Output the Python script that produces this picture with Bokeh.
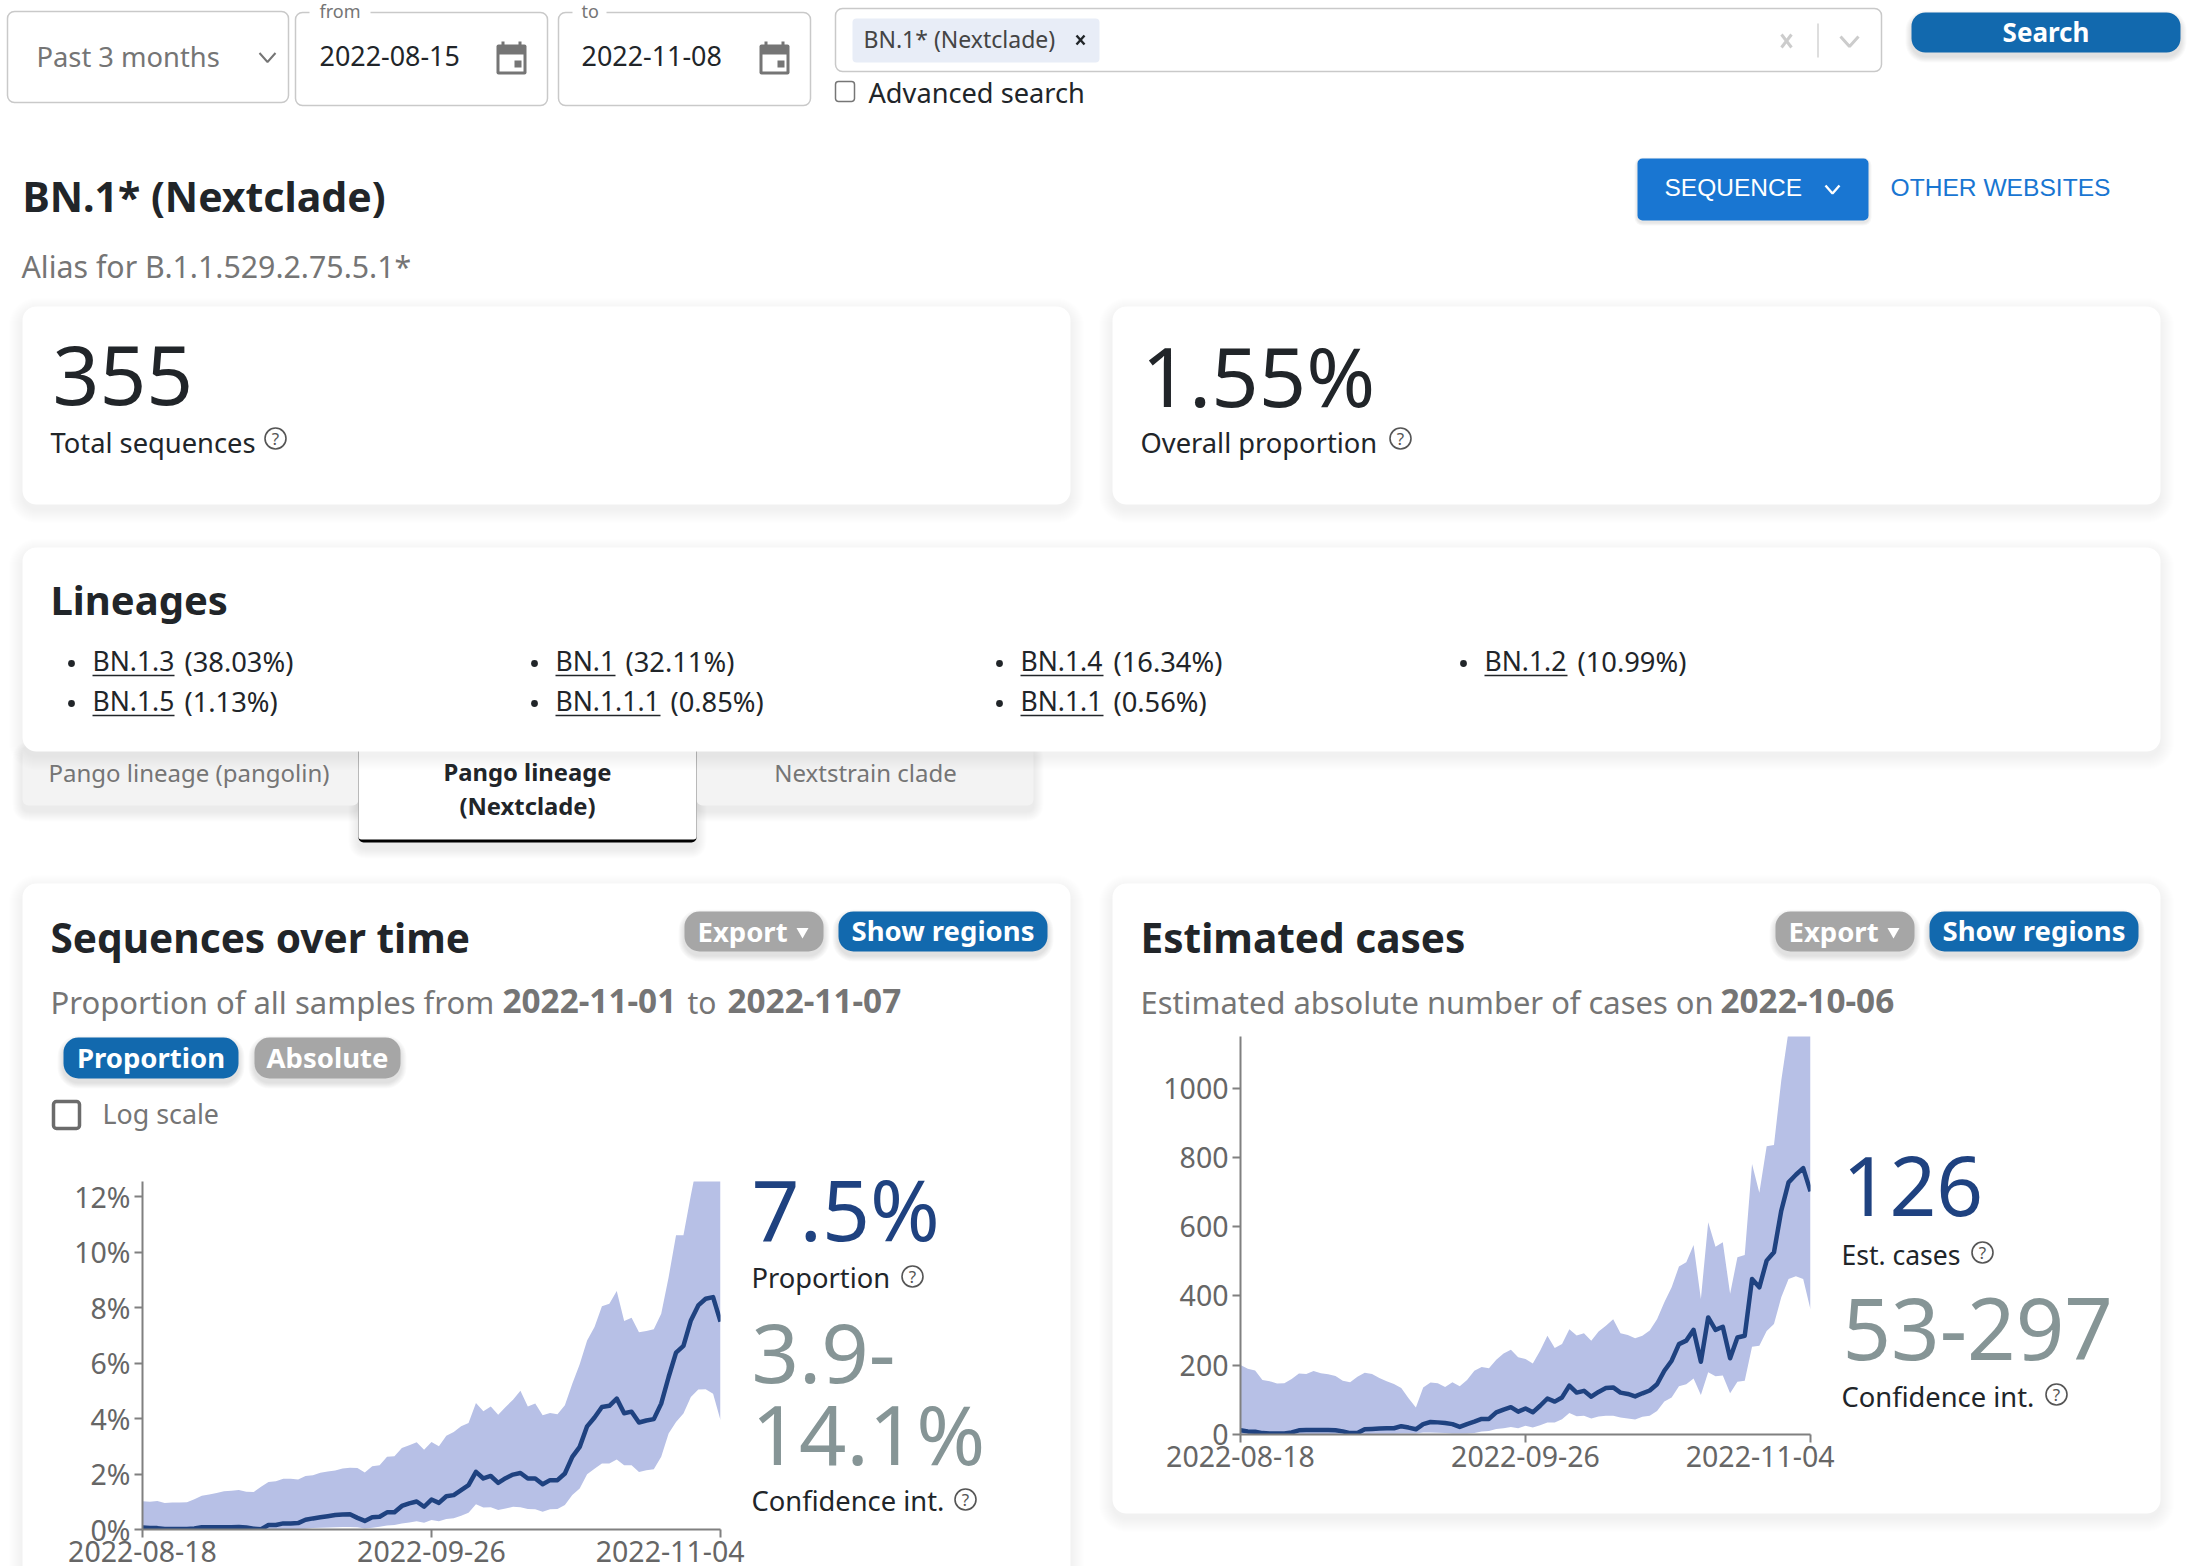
import pandas as pd
from bokeh.core.properties import value
from bokeh.embed import file_html
from bokeh.models import Range1d, FixedTicker, DatetimeTickFormatter
from bokeh.plotting import figure
from bokeh.resources import INLINE

# ---------- data ----------
dates = pd.date_range("2022-08-18", "2022-11-04", freq="D")
x_tick_dates = ["2022-08-18", "2022-09-26", "2022-11-04"]

seq_line = [.07,.05,.05,.02,.02,.02,.02,.04,.08,.08,.08,.08,.08,.09,.07,.03,.01,.16,.16,.22,.22,.23,.35,.40,.44,.48,.52,.54,.55,.42,.31,
            .44,.46,.62,.62,.85,.94,1.01,.82,1.08,.96,1.20,1.24,1.42,1.60,2.08,1.84,1.93,1.68,1.85,1.98,2.04,1.84,1.84,1.63,1.78,1.78,2.02,2.62,2.98,
            3.72,4.04,4.42,4.46,4.72,4.19,4.25,3.86,3.93,3.98,4.54,5.50,6.38,6.62,7.54,8.08,8.32,8.38,7.50]
seq_upper = [1.02,1.00,1.03,.96,.97,.97,.98,1.09,1.22,1.26,1.32,1.38,1.40,1.42,1.36,1.35,1.54,1.71,1.74,1.83,1.83,1.80,1.93,1.96,2.05,2.09,2.13,2.20,2.23,2.22,2.06,
             2.28,2.32,2.62,2.64,2.94,3.04,3.15,2.88,3.16,3.00,3.38,3.52,3.72,3.84,4.56,4.26,4.44,4.14,4.42,4.68,5.00,4.44,4.54,4.12,4.20,4.16,4.48,5.26,5.96,
             6.82,7.30,8.05,8.14,8.60,7.52,7.64,7.11,7.16,7.22,7.78,9.10,10.61,10.61,12.05,13.40,14.00,14.40,14.10]
seq_lower = [0,0,0,0,0,0,0,0,0,0,0,0,0,0,0,0,0,.005,.01,.01,.015,.02,.03,.05,.06,.07,.08,.09,.09,.08,.036,
             .06,.10,.14,.16,.22,.25,.30,.24,.34,.30,.38,.41,.50,.60,.91,.79,.80,.70,.76,.82,.80,.74,.73,.64,.73,.74,.88,1.24,1.48,
             1.99,2.19,2.38,2.38,2.52,2.32,2.32,2.07,2.14,2.17,2.62,3.46,3.88,4.18,4.78,5.05,5.06,4.90,3.94]
case_line = [12,9,8,4,3,3,3,6,12,13,13,13,13,12,9,4,4,15,16,17,18,18,24,20,15,30,36,35,33,30,22,30,37,45,45,64,72,79,66,75,
             64,83,104,95,107,141,121,126,109,123,134,136,121,117,110,119,127,145,184,213,261,271,302,210,338,302,311,220,280,285,449,425,502,526,646,728,750,769,702]
case_upper = [201,190,185,157,154,147,148,160,176,175,183,177,174,169,155,151,167,178,175,163,154,146,134,105,78,136,150,148,137,151,139,157,184,195,191,216,234,245,223,218,
              205,242,285,250,261,304,286,292,271,297,314,333,292,287,278,285,300,333,382,425,485,497,547,391,613,542,555,406,512,518,781,698,832,836,1022,1165,1262,1320,1320]
case_lower = [0,0,0,0,0,0,0,0,0,0,0,0,0,0,0,0,0,1,2,2,2,2,3,3,3,6,6,5,4,3,3,3,4,9,10,16,18,22,18,25,
              20,27,35,35,44,62,53,54,46,52,54,54,49,46,43,51,54,68,95,107,139,145,162,114,180,168,170,119,152,155,253,256,299,319,396,449,457,449,361]
seq_ticks = [0, 2, 4, 6, 8, 10, 12]
seq_tick_labels = ["0%", "2%", "4%", "6%", "8%", "10%", "12%"]
case_ticks = [0, 200, 400, 600, 800, 1000]
case_tick_labels = ["0", "200", "400", "600", "800", "1000"]

lineages_row1 = [("BN.1.3", "(38.03%)"), ("BN.1", "(32.11%)"), ("BN.1.4", "(16.34%)"), ("BN.1.2", "(10.99%)")]
lineages_row2 = [("BN.1.5", "(1.13%)"), ("BN.1.1.1", "(0.85%)"), ("BN.1.1", "(0.56%)")]

assert all(len(s) == len(dates) for s in (seq_line, seq_upper, seq_lower, case_line, case_upper, case_lower))

# ---------- page canvas ----------
W, H = 2187, 1566
FONT = "Noto Sans"
DARK = "#212529"
GREY = "#757575"
BLUE = "#1269ae"
BTN_GREY = "#a6a6a6"
NAVY = "#1f4280"
BAND = "#b7c0e6"
SLATE = "#869596"

bg = figure(width=W, height=H, x_range=Range1d(0, W), y_range=Range1d(0, H), x_axis_type=None, y_axis_type=None,
            output_backend="svg", toolbar_location=None, min_border=0, outline_line_color=None)
bg.grid.visible = False


def Y(v):
    return H - v


def box(l, t, r, b, fill="white", line=None, radius=0, lw=1.5, alpha=1.0):
    bg.quad(left=l, right=r, top=Y(t), bottom=Y(b), fill_color=fill, fill_alpha=alpha,
            line_color=line, line_width=lw, border_radius=radius)


def shadow(l, t, r, b, radius=10, dy=4, spread=12, a=0.012):
    for i in range(spread, 0, -1):
        bg.quad(left=l - i, right=r + i, top=Y(t + dy - i), bottom=Y(b + dy + i), fill_color="black",
                fill_alpha=a, line_color=None, border_radius=radius + i)


def txt(x, y, s, size, color=DARK, bold=False, align="left", font=FONT):
    # y is the wanted baseline; the text box of the renderer sits a fixed fraction of the size lower
    lift = (0.33 if font == "Liberation Sans" else 0.38) * size
    bg.text(x=[x], y=[Y(y - lift)], text=[s], text_font=value(font), text_font_size=f"{size}px", text_color=color,
            text_font_style="bold" if bold else "normal", text_align=align, text_baseline="alphabetic")


def poly(xs, ys, color, w=2):
    bg.line(x=xs, y=[Y(v) for v in ys], line_color=color, line_width=w)


def chevron(x, y, hw, hh, color, w=2):
    poly([x - hw, x, x + hw], [y - hh, y + hh, y - hh], color, w)


def qmark(x, y):
    bg.circle(x=[x], y=[Y(y)], radius=10.5, fill_color=None, line_color="#555555", line_width=1.6)
    txt(x, y + 6, "?", 17, "#555555", align="center")


def calendar(l, t, r, b):
    box(l, t + 3, r, b, fill=GREY, radius=2)
    box(l + 3, t + 13, r - 3, b - 3, fill="white")
    box(l + 18, t + 19, r - 5, b - 7, fill=GREY)
    box(l + 5, t, l + 8, t + 4, fill=GREY)
    box(r - 8, t, r - 5, t + 4, fill=GREY)


def button(l, t, r, b, label, fill, size=27.5, radius=18):
    shadow(l, t, r, b, radius=radius, dy=4, spread=6, a=0.018)
    box(l, t, r, b, fill=fill, radius=radius)
    txt((l + r) / 2, (t + b) / 2 + size * 0.35, label, size, "white", True, "center")


def card(l, t, r, b):
    shadow(l, t, r, b, radius=14, dy=5, spread=14, a=0.0045)
    box(l, t, r, b, fill="white", radius=14)


BORDER = "#c9c9c9"
# ---------- search row ----------
box(7, 11, 288, 102, line=BORDER, radius=7)
txt(36, 66, "Past 3 months", 27.3, GREY)
chevron(267, 57, 8, 4.5, GREY, 2)

for l, r, ltxt, gl, gr, lx, val in ((295, 547, "from", 309, 370, 319, "2022-08-15"), (558, 810, "to", 572, 606, 581, "2022-11-08")):
    box(l, 12, r, 105, line=BORDER, radius=7)
    poly([gl, gr], [12, 12], "white", 4)
    txt(lx, 17, ltxt, 18, GREY)
    txt(lx, 66, val, 26.9, DARK)
    calendar(r - 51, 41, r - 21, 74)

box(835, 8, 1881, 71, line=BORDER, radius=7)
box(852, 18, 1099, 62, fill="#e8edf7", radius=4)
txt(863, 47, "BN.1* (Nextclade)", 23, "#444444")
poly([1076, 1084], [35, 44], DARK, 2.4)
poly([1084, 1076], [35, 44], DARK, 2.4)
poly([1781, 1791], [34, 47], "#cccccc", 3)
poly([1791, 1781], [34, 47], "#cccccc", 3)
poly([1817.5, 1817.5], [23, 57], "#cccccc", 1.3)
chevron(1849, 41, 9, 5, "#cccccc", 3)
box(835, 81, 854, 101, line="#767676", radius=3, lw=1.5)
txt(868, 102, "Advanced search", 27.2, DARK)
button(1911, 12, 2180, 52, "Search", BLUE, 26, 14)

# ---------- header ----------
txt(22, 211, "BN.1* (Nextclade)", 41, DARK, True)
txt(21, 278, "Alias for B.1.1.529.2.75.5.1*", 30.3, GREY)
shadow(1637, 158, 1868, 220, radius=5, dy=2, spread=3, a=0.03)
box(1637, 158, 1868, 220, fill="#1976d2", radius=5)
txt(1664, 195, "SEQUENCE", 24.5, "white", font="Liberation Sans")
chevron(1832, 189, 7, 4, "white", 2.4)
txt(1890, 195, "OTHER WEBSITES", 24.6, "#1976d2", font="Liberation Sans")

# ---------- stat cards ----------
card(22, 306, 1070, 504)
card(1112, 306, 2160, 504)
txt(52, 406, "355", 82, DARK)
txt(50, 452, "Total sequences", 27.3, DARK)
qmark(275, 438)
txt(1141, 406, "1.55%", 83, DARK)
txt(1140, 452, "Overall proportion", 27.3, DARK)
qmark(1400, 438)

# ---------- tabs, then lineages card above ----------
shadow(22, 745, 358, 805, radius=6, dy=6, spread=10, a=0.006)
shadow(696, 745, 1033, 805, radius=6, dy=6, spread=10, a=0.006)
shadow(358, 745, 696, 842, radius=6, dy=6, spread=10, a=0.006)
box(22, 745, 358, 805, fill="#f3f3f3", radius=6)
box(696, 745, 1033, 805, fill="#f3f3f3", radius=6)
box(358, 745, 696, 842, fill="black", radius=5)
box(358, 745, 696, 839, fill="white", radius=3)
card(22, 547, 2160, 751)
txt(48, 781, "Pango lineage (pangolin)", 24, GREY)
txt(527, 781, "Pango lineage", 23.8, DARK, True, "center")
txt(527, 815, "(Nextclade)", 23.8, DARK, True, "center")
txt(865, 781, "Nextstrain clade", 24, GREY, align="center")

txt(50, 614, "Lineages", 40, DARK, True)
col_x = [92, 555, 1020, 1484]
col_end = [[174, 615, 1103, 1567], [174, 660, 1103]]
for row, (items, base) in enumerate(((lineages_row1, 671), (lineages_row2, 711))):
    for c, (name, pct) in enumerate(items):
        bg.circle(x=[col_x[c] - 21], y=[Y(base - 8)], radius=3.4, fill_color=DARK, line_color=None)
        txt(col_x[c], base, name, 26.5, DARK)
        poly([col_x[c], col_end[row][c]], [base + 4, base + 4], DARK, 1.5)
        txt(col_end[row][c] + 10, base, pct, 27.3, DARK)

# ---------- chart cards ----------
card(22, 883, 1070, 1600)
card(1112, 883, 2160, 1513)
for off, title in ((0, "Sequences over time"), (1090, "Estimated cases")):
    txt(50 + off, 952, title, 40.6, DARK, True)
for off in (0, 1091):
    shadow(684 + off, 911, 823 + off, 951, radius=15, dy=4, spread=6, a=0.018)
    box(684 + off, 911, 823 + off, 951, fill=BTN_GREY, radius=15)
    txt(697 + off, 941, "Export", 27.5, "white", True)
    bg.scatter(x=[802 + off], y=[Y(931)], marker="inverted_triangle", size=12, fill_color="white", line_color=None)
    button(838 + off, 911, 1047 + off, 951, "Show regions", BLUE, 27.5, 15)

txt(50, 1013, "Proportion of all samples from", 31, GREY)
txt(502, 1013, "2022-11-01", 33.3, GREY, True)
txt(687, 1013, "to", 30, GREY)
txt(727, 1013, "2022-11-07", 33.3, GREY, True)
txt(1140, 1013, "Estimated absolute number of cases on", 30.9, GREY)
txt(1720, 1013, "2022-10-06", 33.3, GREY, True)

button(63, 1037, 238, 1078, "Proportion", BLUE, 27.5, 15)
button(254, 1037, 400, 1078, "Absolute", BTN_GREY, 27.5, 15)
box(53, 1101, 79, 1128, line="#6b6b6b", radius=3, lw=3.5)
txt(102, 1123, "Log scale", 26.8, GREY)

# ---------- chart side stats ----------
txt(751, 1240, "7.5%", 84, NAVY)
txt(751, 1287, "Proportion", 27.3, DARK)
qmark(912, 1276)
txt(751, 1385, "3.9-", 83, SLATE)
txt(751, 1464, "14.1%", 83, SLATE)
txt(751, 1510, "Confidence int.", 27.3, DARK)
qmark(965, 1499)
txt(1842, 1217, "126", 82, NAVY)
txt(1841, 1265, "Est. cases", 26.5, DARK)
qmark(1982, 1252)
txt(1842, 1361, "53-297", 85, SLATE)
txt(1841, 1406, "Confidence int.", 27.3, DARK)
qmark(2056, 1394)


# ---------- charts ----------
AXIS = "#808080"
LABEL = "#666666"
TICK_SIZE = "28.5px"


def chart(frame_l, frame_t, frame_r, frame_b, y_end, yticks, ylabels, line, upper, lower):
    ml, mr, mt, mb = 100, 40, 6, 37
    p = figure(width=int(frame_r - frame_l + ml + mr), height=int(frame_b - frame_t + mt + mb),
               frame_width=int(frame_r - frame_l), frame_height=int(frame_b - frame_t),
               x_axis_type="datetime", x_range=Range1d(dates[0], dates[-1]), y_range=Range1d(0, y_end),
               output_backend="svg", toolbar_location=None, min_border_left=ml, min_border_right=mr,
               min_border_top=mt, min_border_bottom=mb, background_fill_color=None, border_fill_color=None,
               outline_line_color=None)
    p.grid.visible = False
    p.varea(x=dates, y1=lower, y2=upper, fill_color=BAND)
    p.line(x=dates, y=line, line_color=NAVY, line_width=4.5, line_join="round")

    xt = [pd.Timestamp(d).value / 1e6 for d in x_tick_dates]
    xa = p.xaxis[0]
    xa.ticker = FixedTicker(ticks=xt)
    xa.formatter = DatetimeTickFormatter(days="%Y-%m-%d", months="%Y-%m-%d", years="%Y-%m-%d")
    xa.major_label_overrides = {xt[-1]: " "}
    ya = p.yaxis[0]
    ya.ticker = FixedTicker(ticks=yticks)
    ya.major_label_overrides = dict(zip(yticks, ylabels))
    for a in (xa, ya):
        a.axis_line_color = AXIS
        a.axis_line_width = 2
        a.major_tick_line_color = AXIS
        a.major_tick_line_width = 2
        a.major_tick_out = 8
        a.major_tick_in = 0
        a.minor_tick_line_color = None
        a.major_label_text_font = FONT
        a.major_label_text_font_size = TICK_SIZE
        a.major_label_text_color = LABEL
    xa.major_label_standoff = -6
    ya.major_label_standoff = 4
    # the last date label is pulled left of its tick, so it is a text mark at that date
    p.text(x=[xt[-1]], y=[0], text=[x_tick_dates[-1]], x_offset=24, y_offset=22, text_align="right",
           text_font=value(FONT), text_font_size=TICK_SIZE, text_color=LABEL, text_baseline="alphabetic",
           level="overlay")
    p.styles = {"position": "absolute", "left": f"{frame_l - ml}px", "top": f"{frame_t - mt}px"}
    return p


left = chart(142, 1181, 720, 1529, 12.55, seq_ticks, seq_tick_labels, seq_line, seq_upper, seq_lower)
right = chart(1240, 1036, 1810, 1434, 1149, case_ticks, case_tick_labels, case_line, case_upper, case_lower)

bg.styles = {"position": "absolute", "left": "0px", "top": "0px"}

open("out.html", "w").write(file_html([bg, left, right], INLINE))
